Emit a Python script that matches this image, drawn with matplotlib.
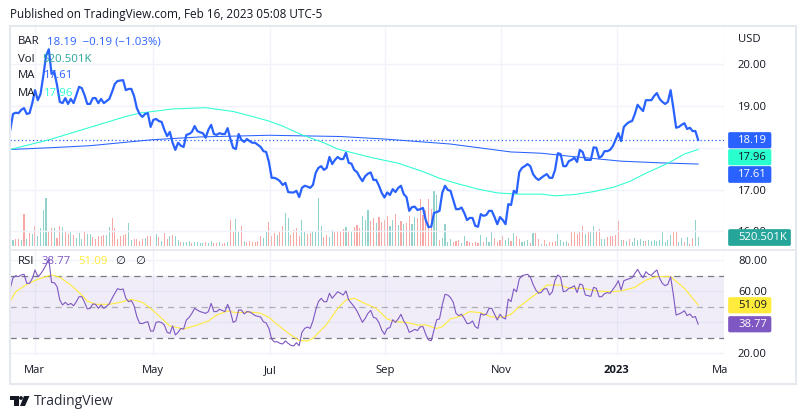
import matplotlib
matplotlib.use("Agg")
import matplotlib.pyplot as plt
from matplotlib.patches import Rectangle, Polygon, Circle, FancyBboxPatch

plt.rcParams["font.family"] = ["Open Sans", "DejaVu Sans"]

# cierre diario, Feb 2022 - Feb 16 2023
close = [
    18.43, 18.81, 18.84, 18.83, 18.91, 18.95, 18.81, 18.83, 19.07, 19.38,
    19.14, 19.29, 19.72, 20.20, 20.36, 19.77, 19.82, 19.50, 19.10, 19.07,
    19.19, 19.05, 19.17, 19.07, 19.26, 19.46, 19.43, 19.26, 19.05, 19.05,
    19.19, 19.19, 19.07, 19.17, 19.07, 19.12, 19.17, 19.34, 19.53, 19.60,
    19.61, 19.62, 19.38, 19.41, 19.41, 19.24, 18.95, 18.81, 18.74, 18.81,
    18.83, 18.50, 18.67, 18.69, 18.64, 18.62, 18.43, 18.28, 18.38, 18.12,
    17.95, 18.12, 18.05, 18.02, 18.31, 18.33, 18.38, 18.52, 18.40, 18.37,
    18.35, 18.24, 18.43, 18.55, 18.33, 18.31, 18.35, 18.33, 18.33, 18.47,
    18.21, 18.00, 17.97, 18.33, 18.19, 18.14, 18.21, 18.16, 18.12, 18.12,
    18.07, 18.02, 17.92, 17.90, 17.66, 17.28, 17.28, 17.25, 17.20, 17.11,
    17.16, 16.94, 16.93, 16.93, 16.97, 16.82, 17.04, 17.09, 17.07, 17.04,
    17.11, 17.40, 17.52, 17.56, 17.47, 17.52, 17.78, 17.61, 17.71, 17.78,
    17.73, 17.73, 17.88, 17.64, 17.62, 17.47, 17.42, 17.30, 17.20, 17.32,
    17.38, 17.41, 17.23, 17.23, 17.09, 16.92, 16.81, 16.93, 16.87, 17.01,
    16.94, 17.04, 17.09, 16.89, 16.82, 16.49, 16.58, 16.59, 16.51, 16.53,
    16.56, 16.27, 16.10, 16.11, 16.44, 16.46, 16.49, 16.92, 17.09, 16.99,
    16.97, 16.75, 16.53, 16.53, 16.57, 16.44, 16.27, 16.32, 16.32, 16.13,
    16.11, 16.41, 16.37, 16.39, 16.49, 16.49, 16.34, 16.17, 16.34, 16.27,
    16.17, 16.65, 16.63, 16.97, 16.92, 17.42, 17.52, 17.56, 17.61, 17.56,
    17.37, 17.28, 17.23, 17.28, 17.33, 17.37, 17.28, 17.28, 17.47, 17.87,
    17.85, 17.56, 17.56, 17.68, 17.71, 17.76, 17.66, 17.95, 17.90, 17.71,
    17.71, 17.71, 18.01, 18.00, 17.76, 17.80, 17.92, 17.92, 17.95, 18.04,
    18.19, 18.35, 18.16, 18.50, 18.57, 18.62, 18.64, 18.81, 19.03, 18.95,
    18.88, 19.14, 19.14, 19.14, 19.24, 19.31, 19.17, 19.10, 19.05, 19.10,
    19.38, 18.95, 18.48, 18.50, 18.55, 18.59, 18.45, 18.48, 18.40, 18.40,
    18.19,
]

rsi = [
    61.8, 68.6, 69.9, 69.3, 70.4, 70.8, 65.0, 65.0, 68.2, 73.6,
    69.3, 71.0, 73.6, 76.8, 80.6, 65.6, 65.4, 62.9, 54.3, 51.1,
    52.8, 51.1, 52.1, 50.6, 53.2, 56.4, 56.4, 52.8, 48.5, 48.9,
    51.7, 51.5, 48.9, 51.1, 48.9, 50.2, 51.9, 55.4, 58.6, 61.6,
    60.9, 61.4, 55.4, 53.2, 53.9, 50.6, 43.6, 39.3, 39.1, 39.9,
    40.3, 34.3, 34.3, 39.9, 40.3, 39.7, 38.2, 33.5, 32.8, 37.6,
    31.8, 33.5, 36.0, 35.6, 41.4, 43.1, 45.7, 48.9, 47.8, 46.8,
    46.3, 45.7, 46.8, 52.1, 46.8, 46.8, 48.3, 47.6, 46.8, 51.5,
    46.8, 39.9, 40.8, 47.8, 47.8, 45.3, 46.8, 46.6, 45.5, 44.2,
    43.8, 43.3, 40.3, 39.5, 36.0, 29.2, 27.3, 27.5, 26.4, 26.0,
    27.9, 26.4, 25.1, 24.7, 26.8, 24.9, 33.5, 36.0, 36.9, 36.0,
    40.8, 47.8, 53.2, 55.4, 53.2, 53.2, 58.6, 55.4, 57.5, 59.6,
    58.6, 57.5, 60.1, 54.3, 52.1, 50.0, 47.2, 43.6, 39.9, 42.5,
    45.7, 47.6, 43.1, 42.5, 39.7, 35.0, 32.2, 36.0, 36.5, 41.6,
    39.9, 42.1, 45.1, 40.8, 38.2, 33.5, 34.3, 35.4, 34.6, 37.1,
    37.1, 32.2, 28.6, 28.1, 35.0, 41.6, 42.1, 51.1, 57.9, 57.5,
    55.8, 52.8, 45.7, 44.2, 45.1, 42.5, 39.1, 39.3, 40.8, 37.1,
    36.0, 45.5, 44.6, 45.1, 48.9, 48.9, 45.1, 41.4, 45.1, 42.9,
    42.1, 54.9, 53.2, 61.4, 59.6, 67.8, 69.9, 70.4, 70.8, 69.1,
    64.4, 60.7, 58.6, 59.2, 61.4, 61.6, 57.5, 59.6, 67.1, 70.4,
    68.9, 59.6, 60.1, 61.8, 62.4, 63.5, 59.0, 64.6, 63.9, 57.5,
    57.1, 56.6, 62.4, 61.8, 56.4, 56.4, 58.4, 59.0, 58.6, 61.1,
    63.5, 66.7, 60.7, 66.7, 67.4, 68.0, 68.6, 71.4, 74.0, 70.8,
    68.6, 72.5, 70.8, 70.1, 72.1, 73.6, 68.2, 65.0, 63.5, 64.4,
    69.3, 57.5, 44.6, 45.3, 46.1, 47.4, 44.2, 45.3, 43.1, 43.6,
    38.77,
]

# volumen en miles
vol_k = [
    279, 335, 391, 391, 335, 1786, 391, 725, 670, 1116,
    558, 1004, 2009, 2678, 781, 1004, 1004, 446, 1116, 1060,
    837, 670, 837, 614, 446, 725, 391, 837, 670, 670,
    502, 391, 558, 558, 614, 614, 1060, 1562, 1004, 391,
    558, 614, 670, 1283, 335, 391, 391, 279, 391, 446,
    558, 558, 335, 670, 502, 279, 725, 391, 558, 614,
    558, 335, 223, 223, 223, 279, 167, 223, 223, 167,
    167, 223, 167, 279, 167, 167, 223, 112, 167, 223,
    1451, 781, 1507, 837, 1116, 279, 223, 279, 223, 223,
    279, 558, 446, 781, 1339,
    558, 725, 614, 781, 1116, 1841, 1562, 614, 893, 1004,
    558, 1451, 781, 670, 725, 781, 837, 2678, 1116, 502,
    614, 502, 893, 781, 781, 781, 949, 1060, 781, 781,
    1060, 1172, 1004, 1674, 1451, 2009, 1395, 1562, 1283, 1618,
    1339, 1451, 1674, 1116, 1451, 1786, 1172, 1395, 1228, 1283,
    1674, 1228, 1618, 1562, 2623, 1730, 2009, 2623, 2065, 3069,
    2846, 335, 446, 1228, 223, 391, 223, 279, 335, 167,
    558, 279, 223, 167, 223, 167, 614, 223, 502, 223,
    837, 446, 223, 335, 558, 335, 446, 279, 725, 558,
    391, 223, 279, 335, 167, 725, 725, 391,
    112, 335, 112, 223, 223, 279, 670, 335, 223, 279,
    167, 837, 837, 670, 837, 1116, 670, 837, 781, 1116,
    837, 949, 391, 391, 502, 558, 558, 614, 1395, 335,
    335, 279, 391, 223, 446, 335, 391, 279, 279, 335,
    279, 335, 279, 335, 781, 223, 335, 614, 781, 781,
    223, 446, 223, 502, 112, 446, 1451, 520.5,
]
# T sube, R baja
vol_dir = (
    "TTRRTRTRTR" "TTTTRRTRRT" "RRTRTTTRTT" "RRRRRTTRRR" "RRRTTRRRRT"
    "RRTTRTRRTR" "TTRTTTRTTT" "TRTTRRTRRT" "RRTTRTRRRR" "RRTTR"
    "RRTRRTTRRR" "RTTRRTTTTR" "RTTRRRRTRT" "RRRTTTRRTR" "RRRTTRTRTR"
    "RTTRRRRRRT" "TRTTTTRRRT" "TRRRRRTRTT" "TRRRRTTRTR" "RTTTRTRR"
    "TRTRRRTTTT" "RRRRRRTRTT" "RRTTRRRRRT" "RTRTTTTTRT" "TTTTTTTTRR"
    "TTRTRRTT"
)

# medias, nudos
ma_slow_idx = [0, 14, 29, 51, 69, 94, 120, 136, 160, 182, 193, 203, 222, 236, 250]
ma_slow = [17.96, 18.00, 18.05, 18.19, 18.26, 18.30, 18.27, 18.21, 18.09, 17.90, 17.87, 17.80, 17.68, 17.64, 17.61]
ma_fast_idx = [0, 14, 42, 47, 59, 71, 81, 88, 94, 99, 106, 114, 119, 131, 141, 150,
               156, 162, 170, 177, 184, 193, 198, 205, 212, 219, 225, 231, 239, 245, 250]
ma_fast = [17.96, 18.19, 18.75, 18.83, 18.93, 18.96, 18.87, 18.75, 18.64, 18.52, 18.31, 18.12, 17.97, 17.77, 17.63, 17.43,
           17.27, 17.15, 17.01, 16.92, 16.89, 16.89, 16.85, 16.88, 16.95, 17.05, 17.19, 17.39, 17.63, 17.85, 17.96]
rsi_ma_idx = [0, 2, 6, 10, 15, 18, 22, 25, 28, 31, 36, 40, 44, 48, 51, 55, 58, 63, 68, 72, 75, 79, 82, 87, 91, 94,
              98, 102, 105, 108, 110, 115, 119, 122, 125, 128, 133, 137, 140, 144, 148, 151, 155, 157, 160, 164, 167,
              171, 175, 179, 182, 185, 189, 193, 195, 200, 203, 208, 213, 218, 222, 227, 231, 235, 240, 245, 248, 250]
rsi_ma = [53.6, 59.6, 64.4, 67.6, 70.4, 68.9, 63.9, 59.2, 53.6, 51.5, 51.5, 52.8, 54.7, 52.8, 48.9, 42.5, 37.6, 35.6,
          38.2, 40.8, 44.6, 47.2, 46.1, 46.6, 45.7, 43.1,
          37.1, 31.8, 28.3, 27.9, 29.6, 38.6, 48.9, 54.3, 55.4, 52.8, 48.9, 42.1, 40.3, 39.9, 38.2, 38.2, 36.0, 37.1,
          42.1, 44.0, 46.8, 46.1, 43.3, 43.1, 45.1, 50.0, 55.4, 60.7, 63.9, 63.9, 61.8, 61.8, 60.1, 59.6, 60.1, 62.4,
          67.1, 69.3, 69.3, 61.8, 55.4, 51.09]

month_ticks = [8.9, 51.8, 94.5, 136.3, 178.3, 220.4, 259.3]
month_labels = ["Mar", "May", "Jul", "Sep", "Nov", "2023", ""]
price_ticks = [16, 17, 18, 19, 20]
price_labels = ["16.00", "17.00", "", "19.00", "20.00"]  # 18.00 queda tapado por las etiquetas
rsi_ticks = [20, 40, 60, 80]
rsi_labels = ["20.00", "", "60.00", "80.00"]

BLUE = "#2962ff"
CYAN = "#2affd0"
TEAL = "#26a69a"
RED = "#ef5350"
PURPLE = "#7e57c2"
YELLOW = "#ffeb3b"
GRID = "#f0f3fa"
TEXT = "#131722"
W, H = 806, 419
XLIM = (-0.1, 259.4)


def caja(x0, y0, x1, y1):
    """Rectangulo en pixeles de la imagen -> coordenadas de figura."""
    return [x0 / W, 1 - y1 / H, (x1 - x0) / W, (y1 - y0) / H]


fig = plt.figure(figsize=(W / 100, H / 100), dpi=100, facecolor="white")

ax = fig.add_axes(caja(10, 27, 724, 249))
ax_vol = ax.twinx()
ax_rsi = fig.add_axes(caja(10, 251, 724, 355))

# panel de precio
ax.set_zorder(2)
ax_vol.set_zorder(1)
ax.patch.set_visible(False)
ax.plot(range(len(close)), close, color=BLUE, lw=1.6, solid_joinstyle="round", zorder=4)
ax.plot(ma_slow_idx, ma_slow, color=BLUE, lw=0.75, zorder=3)
ax.plot(ma_fast_idx, ma_fast, color=CYAN, lw=0.75, zorder=3)
ax.axhline(close[-1], color=BLUE, lw=0.9, ls=(0, (1, 2)), zorder=2)
ax.set_xlim(*XLIM)
ax.set_ylim(15.576, 20.893)
ax.set_yticks(price_ticks)
ax.set_yticklabels(price_labels)
ax.set_xticks(month_ticks)
ax.set_xticklabels([])
ax.yaxis.tick_right()

# volumen
colores = [TEAL if d == "T" else RED for d in vol_dir]
ax_vol.bar(range(len(vol_k)), vol_k, width=0.4, color=colores, alpha=0.5, linewidth=0)
ax_vol.set_xlim(*XLIM)
ax_vol.set_ylim(-167, 12220)
ax_vol.axis("off")

# panel RSI
ax_rsi.axhspan(30, 70, color=PURPLE, alpha=0.1, lw=0)
for nivel, a in [(70, 1.0), (50, 0.55), (30, 1.0)]:
    ax_rsi.axhline(nivel, color="#787b86", lw=0.9, ls=(0, (5, 4)), alpha=a, zorder=2)
ax_rsi.plot(range(len(rsi)), rsi, color=PURPLE, lw=0.8, zorder=4)
ax_rsi.plot(rsi_ma_idx, rsi_ma, color=YELLOW, lw=0.8, zorder=3)
ax_rsi.set_xlim(*XLIM)
ax_rsi.set_ylim(18.9, 85.8)
ax_rsi.set_yticks(rsi_ticks)
ax_rsi.set_yticklabels(rsi_labels)
ax_rsi.set_xticks(month_ticks)
ax_rsi.set_xticklabels(month_labels)
ax_rsi.yaxis.tick_right()
for lab in ax_rsi.get_xticklabels():
    if lab.get_text() == "2023":
        lab.set_fontweight("bold")

for a in (ax, ax_rsi):
    a.grid(True, color=GRID, lw=1.0)
    a.set_axisbelow(True)
    a.tick_params(length=0, labelsize=8.1, labelcolor=TEXT, pad=10)
    for s in a.spines.values():
        s.set_visible(False)
ax_rsi.tick_params(axis="x", pad=7.5)

# capa en pixeles: marco, etiquetas, logo
ov = fig.add_axes([0, 0, 1, 1], zorder=10)
ov.set_xlim(0, W)
ov.set_ylim(H, 0)
ov.axis("off")
ov.patch.set_visible(False)

ov.add_patch(Rectangle((9.5, 26), 786.5, 357.5, fill=False, ec="#e6e8ef", lw=1.5))
ov.plot([10, 796], [249.5, 249.5], color="#e6e8ef", lw=1.2)


def badge(txt, y0, y1, fondo, color, x1=771.5):
    ov.add_patch(FancyBboxPatch((728.5, y0 + 0.5), x1 - 729, y1 - y0 - 1, boxstyle="round,pad=0,rounding_size=1.5",
                                fc=fondo, ec=fondo, lw=0.5))
    ov.text(738, (y0 + y1) / 2, txt, color=color, fontsize=8.1, ha="left", va="center")


badge("18.19", 132, 148.5, BLUE, "white")
badge("17.96", 149, 165.5, CYAN, TEXT)
badge("17.61", 166, 183, BLUE, "white")
badge("520.501K", 229, 246, TEAL, "white", x1=791)
badge("51.09", 297, 313.5, YELLOW, TEXT)
badge("38.77", 316, 332.5, PURPLE, "white")

ov.text(738, 40, "USD", fontsize=8.1, color=TEXT, va="center")
ov.text(712, 370, "Ma", fontsize=8.1, color=TEXT, va="center", ha="left")

ov.text(10, 14.5, "Published on TradingView.com, Feb 16, 2023 05:08 UTC-5", fontsize=8.45, color=TEXT, va="center")

# leyenda
LEG = 8.2
ov.text(18, 41.5, "BAR", fontsize=LEG, color=TEXT, va="center")
ov.text(47, 41.5, "18.19  \u22120.19 (\u22121.03%)", fontsize=LEG, color=BLUE, va="center")
ov.text(18, 59, "Vol", fontsize=LEG, color=TEXT, va="center")
ov.text(42, 59, "520.501K", fontsize=LEG, color=TEAL, va="center")
ov.text(18, 76, "MA", fontsize=LEG, color=TEXT, va="center")
ov.text(44, 76, "17.61", fontsize=LEG, color=BLUE, va="center")
ov.text(18, 93, "MA", fontsize=LEG, color=TEXT, va="center")
ov.text(44, 93, "17.96", fontsize=LEG, color=CYAN, va="center")
ov.text(18, 261.5, "RSI", fontsize=LEG, color=TEXT, va="center")
ov.text(42, 261.5, "38.77", fontsize=LEG, color=PURPLE, va="center")
ov.text(78, 261.5, "51.09", fontsize=LEG, color=YELLOW, va="center")
ov.text(115, 261.5, "\u2205", fontsize=LEG, color=TEXT, va="center")
ov.text(135, 261.5, "\u2205", fontsize=LEG, color=TEXT, va="center")

# logo
ov.add_patch(Polygon([(10, 396), (18.5, 396), (18.5, 406), (14, 406), (14, 400), (10, 400)], fc=TEXT, ec="none"))
ov.add_patch(Circle((21, 398), 1.9, fc=TEXT, ec="none"))
ov.add_patch(Polygon([(24, 396), (29.5, 396), (25, 406), (20, 406)], fc=TEXT, ec="none"))
ov.text(33.5, 401, "TradingView", fontsize=10, color="#2a2e39", va="center")

fig.savefig("out.png", dpi=100)
plt.close()
